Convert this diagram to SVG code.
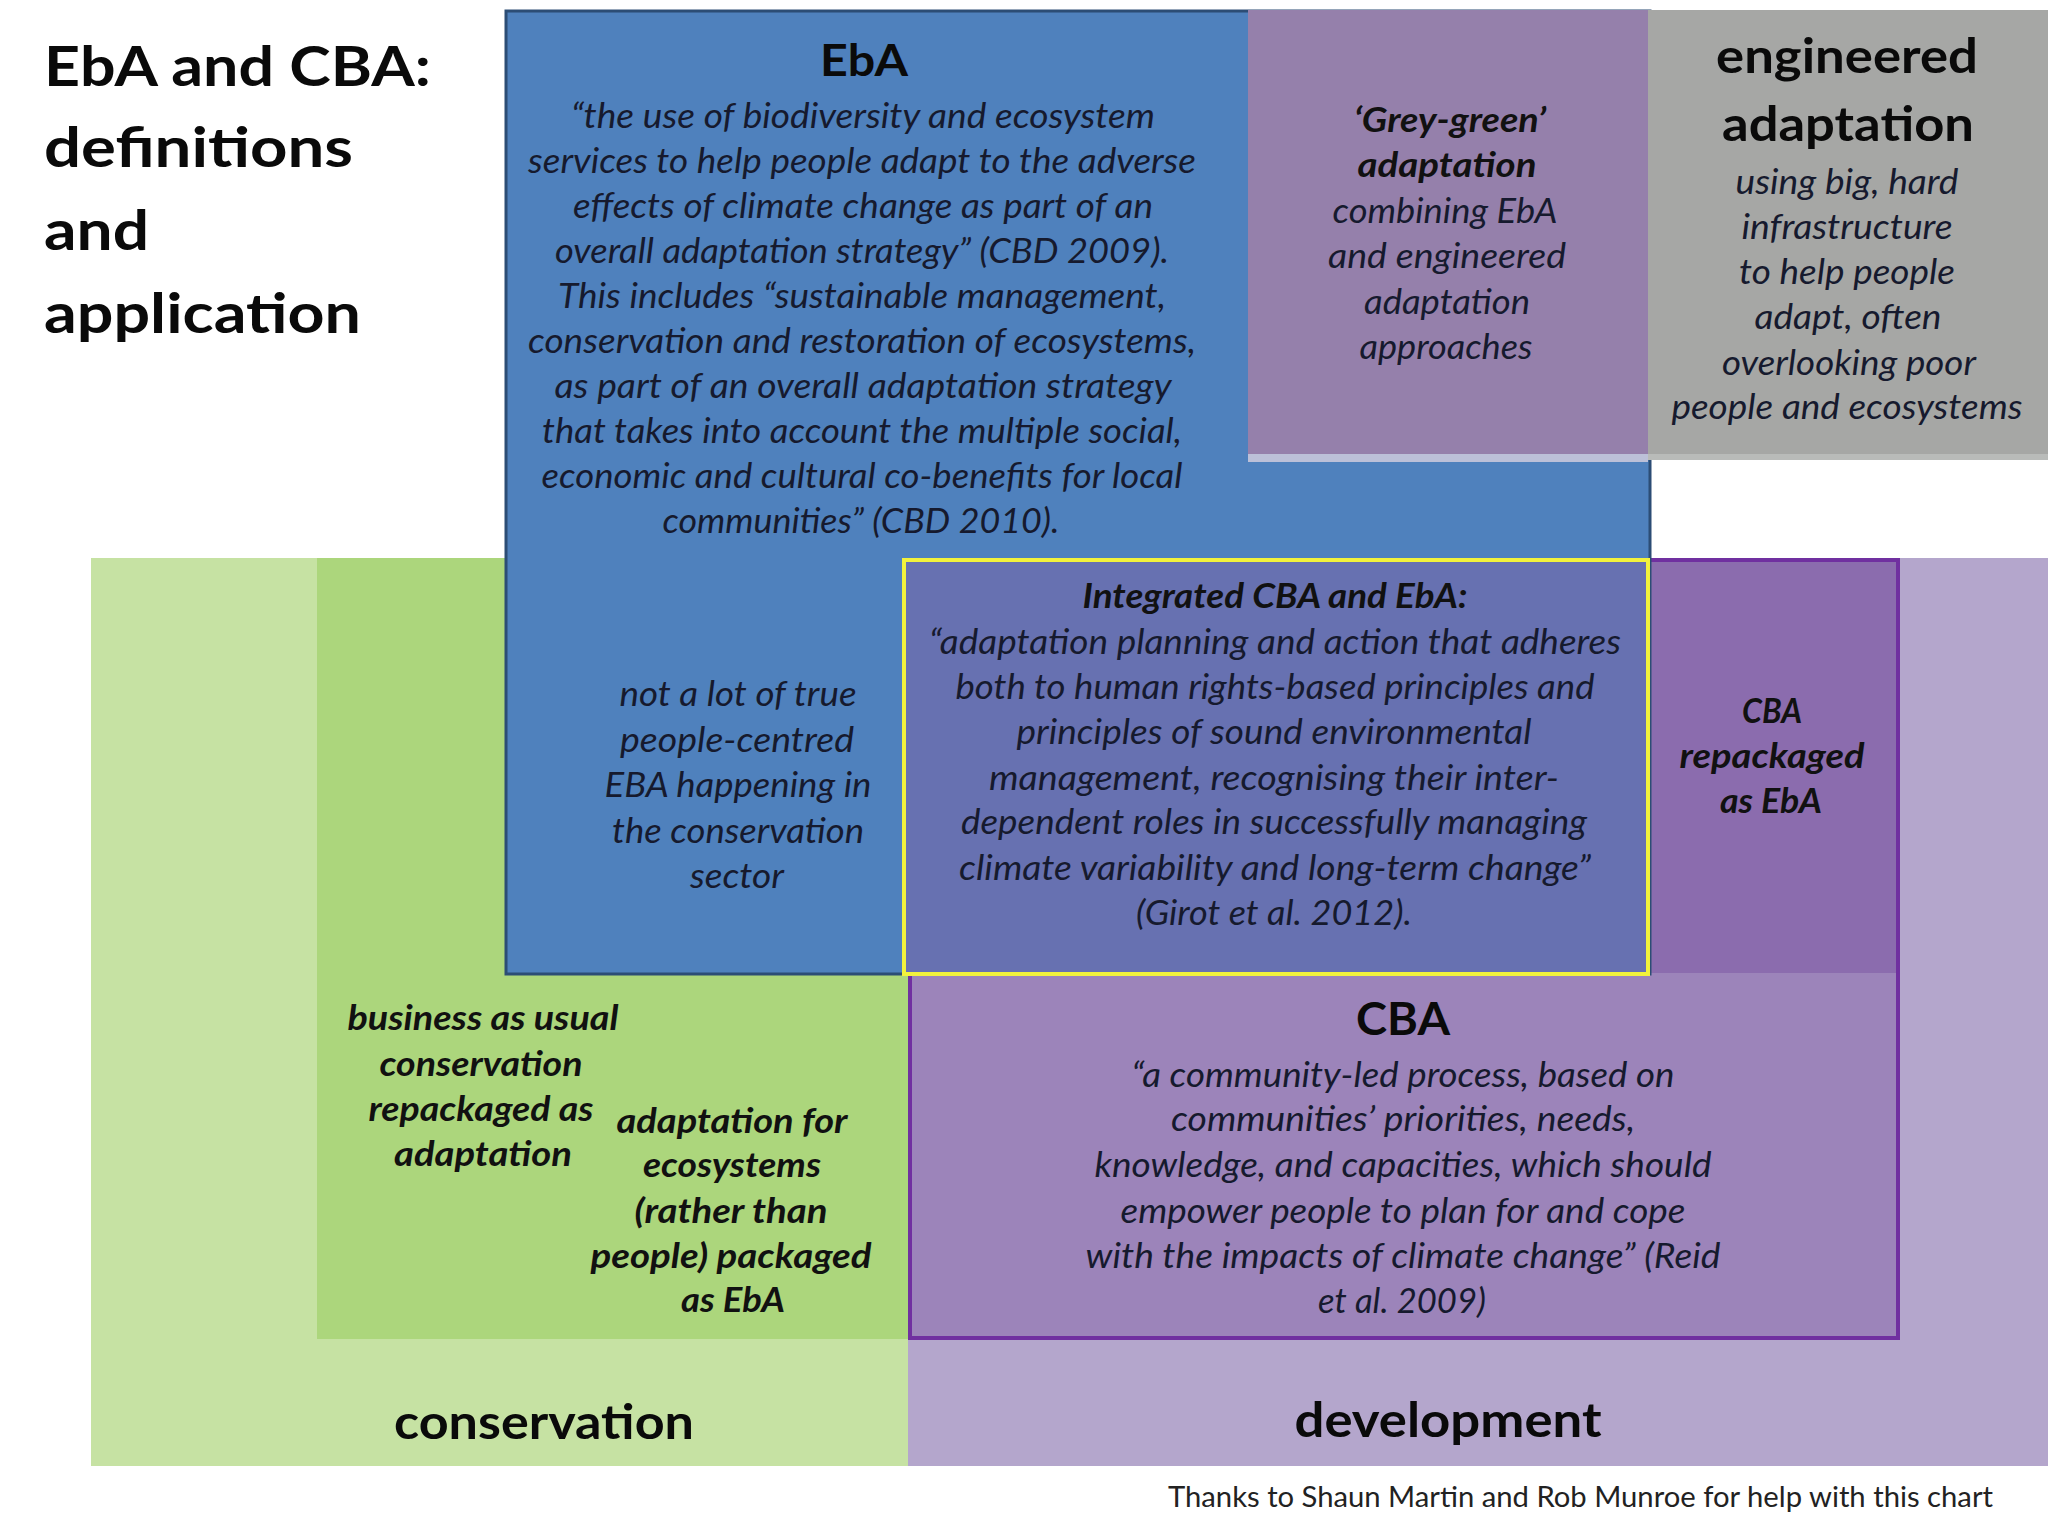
<svg xmlns="http://www.w3.org/2000/svg" width="2048" height="1536" viewBox="0 0 2048 1536">
<style>
text{font-family:Lato,"Open Sans","Liberation Sans",sans-serif;}
.t{font-weight:bold;font-size:56px;fill:#0a0a0a;}
.h{font-weight:bold;font-size:44px;fill:#0a0a0a;text-anchor:middle;}
.it{font-style:italic;font-size:34px;fill:#161a2e;text-anchor:middle;}
.bi{font-style:italic;font-weight:bold;font-size:34px;fill:#111;text-anchor:middle;}
.ft{font-size:29px;fill:#222;}
</style>
<rect width="2048" height="1536" fill="#ffffff"/>
<g id="conservation">
<rect x="91" y="558" width="817" height="908" fill="#c6e2a3"/>
<text class="h" x="544" y="1439" style="font-size:47px" textLength="300" lengthAdjust="spacingAndGlyphs">conservation</text>
</g>
<g id="conservation-inner">
<rect x="317" y="558" width="591" height="781" fill="#acd67c"/>
</g>
<g id="development">
<rect x="908" y="558" width="1140" height="908" fill="#b4a6cc"/>
<text class="h" x="1448" y="1437" style="font-size:47px" textLength="307" lengthAdjust="spacingAndGlyphs">development</text>
</g>
<g id="cba">
<rect x="908" y="558" width="992" height="782" fill="#9c84ba"/>
<rect x="1650" y="558" width="250" height="415" fill="#8b6cae"/>
<rect x="910" y="560" width="988" height="778" fill="none" stroke="#7030a0" stroke-width="4"/>
<text class="h" x="1403" y="1035" style="font-size:46px" textLength="94" lengthAdjust="spacingAndGlyphs">CBA</text>
<text class="it" x="1403" y="1087" textLength="543" lengthAdjust="spacingAndGlyphs">“a community-led process, based on</text>
<text class="it" x="1403" y="1131" textLength="464" lengthAdjust="spacingAndGlyphs">communities’ priorities, needs,</text>
<text class="it" x="1403" y="1177" textLength="617" lengthAdjust="spacingAndGlyphs">knowledge, and capacities, which should</text>
<text class="it" x="1403" y="1223" textLength="565" lengthAdjust="spacingAndGlyphs">empower people to plan for and cope</text>
<text class="it" x="1403" y="1268" textLength="635" lengthAdjust="spacingAndGlyphs">with the impacts of climate change” (Reid</text>
<text class="it" x="1402" y="1313" textLength="168" lengthAdjust="spacingAndGlyphs">et al. 2009)</text>
</g>
<g id="cba-repackaged">
<text class="bi" x="1772" y="723" textLength="60" lengthAdjust="spacingAndGlyphs">CBA</text>
<text class="bi" x="1772" y="768" textLength="185" lengthAdjust="spacingAndGlyphs">repackaged</text>
<text class="bi" x="1771" y="813" textLength="102" lengthAdjust="spacingAndGlyphs">as EbA</text>
</g>
<g id="eba">
<rect x="506" y="11" width="1144" height="963" fill="#4f81bd" stroke="#2c4d75" stroke-width="3"/>
<text class="h" x="864" y="76" textLength="88" lengthAdjust="spacingAndGlyphs">EbA</text>
<text class="it" x="863" y="128" textLength="584" lengthAdjust="spacingAndGlyphs">“the use of biodiversity and ecosystem</text>
<text class="it" x="862" y="173" textLength="668" lengthAdjust="spacingAndGlyphs">services to help people adapt to the adverse</text>
<text class="it" x="863" y="218" textLength="580" lengthAdjust="spacingAndGlyphs">effects of climate change  as part of an</text>
<text class="it" x="862" y="263" textLength="614" lengthAdjust="spacingAndGlyphs">overall adaptation strategy” (CBD 2009).</text>
<text class="it" x="862" y="308" textLength="608" lengthAdjust="spacingAndGlyphs">This includes “sustainable management,</text>
<text class="it" x="862" y="353" textLength="668" lengthAdjust="spacingAndGlyphs">conservation and restoration of ecosystems,</text>
<text class="it" x="863" y="398" textLength="617" lengthAdjust="spacingAndGlyphs">as part of an overall adaptation strategy</text>
<text class="it" x="862" y="443" textLength="640" lengthAdjust="spacingAndGlyphs">that takes into account the multiple social,</text>
<text class="it" x="862" y="488" textLength="641" lengthAdjust="spacingAndGlyphs">economic and cultural co-benefits for local</text>
<text class="it" x="861" y="533" textLength="397" lengthAdjust="spacingAndGlyphs">communities” (CBD 2010).</text>
</g>
<g id="not-people-centred">
<text class="it" x="738" y="706" textLength="237" lengthAdjust="spacingAndGlyphs">not a lot of true</text>
<text class="it" x="737" y="752" textLength="234" lengthAdjust="spacingAndGlyphs">people-centred</text>
<text class="it" x="738" y="797" textLength="267" lengthAdjust="spacingAndGlyphs">EBA happening in</text>
<text class="it" x="738" y="843" textLength="252" lengthAdjust="spacingAndGlyphs">the conservation</text>
<text class="it" x="737" y="888" textLength="94" lengthAdjust="spacingAndGlyphs">sector</text>
</g>
<g id="grey-green">
<rect x="1248" y="10" width="400" height="452" fill="#9580ab"/>
<rect x="1248" y="454" width="400" height="8" fill="#bcc0d8"/>
<text class="bi" x="1450" y="132" textLength="192" lengthAdjust="spacingAndGlyphs">‘Grey-green’</text>
<text class="bi" x="1447" y="177" textLength="179" lengthAdjust="spacingAndGlyphs">adaptation</text>
<text class="it" x="1445" y="223" textLength="225" lengthAdjust="spacingAndGlyphs">combining EbA</text>
<text class="it" x="1447" y="268" textLength="238" lengthAdjust="spacingAndGlyphs">and engineered</text>
<text class="it" x="1447" y="314" textLength="166" lengthAdjust="spacingAndGlyphs">adaptation</text>
<text class="it" x="1446" y="359" textLength="173" lengthAdjust="spacingAndGlyphs">approaches</text>
</g>
<g id="engineered">
<rect x="1648" y="10" width="400" height="450" fill="#a6a7a5"/>
<rect x="1648" y="454" width="400" height="6" fill="#b9bbb9"/>
<text class="h" x="1847" y="73" style="font-size:48px" textLength="262" lengthAdjust="spacingAndGlyphs">engineered</text>
<text class="h" x="1848" y="141" style="font-size:48px" textLength="252" lengthAdjust="spacingAndGlyphs">adaptation</text>
<text class="it" x="1847" y="194" textLength="223" lengthAdjust="spacingAndGlyphs">using big, hard</text>
<text class="it" x="1847" y="239" textLength="211" lengthAdjust="spacingAndGlyphs">infrastructure</text>
<text class="it" x="1847" y="284" textLength="216" lengthAdjust="spacingAndGlyphs">to help people</text>
<text class="it" x="1848" y="329" textLength="187" lengthAdjust="spacingAndGlyphs">adapt, often</text>
<text class="it" x="1849" y="375" textLength="254" lengthAdjust="spacingAndGlyphs">overlooking poor</text>
<text class="it" x="1847" y="419" textLength="351" lengthAdjust="spacingAndGlyphs">people and ecosystems</text>
</g>
<g id="integrated">
<rect x="904" y="560" width="744" height="414" fill="#6771b1" stroke="#f2f23c" stroke-width="4"/>
<text class="bi" x="1275" y="608" textLength="385" lengthAdjust="spacingAndGlyphs">Integrated CBA and EbA:</text>
<text class="it" x="1275" y="654" textLength="692" lengthAdjust="spacingAndGlyphs">“adaptation planning and action that adheres</text>
<text class="it" x="1275" y="699" textLength="639" lengthAdjust="spacingAndGlyphs">both to human rights-based principles and</text>
<text class="it" x="1274" y="744" textLength="515" lengthAdjust="spacingAndGlyphs">principles of sound environmental</text>
<text class="it" x="1274" y="790" textLength="570" lengthAdjust="spacingAndGlyphs">management, recognising their inter-</text>
<text class="it" x="1274" y="834" textLength="626" lengthAdjust="spacingAndGlyphs">dependent roles in successfully managing</text>
<text class="it" x="1275" y="880" textLength="632" lengthAdjust="spacingAndGlyphs">climate variability and long-term change”</text>
<text class="it" x="1274" y="925" textLength="276" lengthAdjust="spacingAndGlyphs">(Girot et al. 2012).</text>
</g>
<g id="business-as-usual">
<text class="bi" x="483" y="1030" textLength="271" lengthAdjust="spacingAndGlyphs">business as usual</text>
<text class="bi" x="481" y="1076" textLength="203" lengthAdjust="spacingAndGlyphs">conservation</text>
<text class="bi" x="481" y="1121" textLength="225" lengthAdjust="spacingAndGlyphs">repackaged as</text>
<text class="bi" x="483" y="1166" textLength="178" lengthAdjust="spacingAndGlyphs">adaptation</text>
</g>
<g id="adaptation-for-ecosystems">
<text class="bi" x="732" y="1133" textLength="231" lengthAdjust="spacingAndGlyphs">adaptation for</text>
<text class="bi" x="732" y="1177" textLength="178" lengthAdjust="spacingAndGlyphs">ecosystems</text>
<text class="bi" x="731" y="1223" textLength="193" lengthAdjust="spacingAndGlyphs">(rather than</text>
<text class="bi" x="731" y="1268" textLength="281" lengthAdjust="spacingAndGlyphs">people) packaged</text>
<text class="bi" x="733" y="1312" textLength="104" lengthAdjust="spacingAndGlyphs">as EbA</text>
</g>
<g id="title">
<text class="t" x="44" y="86" textLength="387" lengthAdjust="spacingAndGlyphs">EbA and CBA:</text>
<text class="t" x="44" y="167" textLength="309" lengthAdjust="spacingAndGlyphs">definitions</text>
<text class="t" x="44" y="250" textLength="105" lengthAdjust="spacingAndGlyphs">and</text>
<text class="t" x="44" y="333" textLength="317" lengthAdjust="spacingAndGlyphs">application</text>
</g>
<g id="credit">
<text class="ft" x="1168" y="1507" textLength="825" lengthAdjust="spacingAndGlyphs">Thanks to Shaun Martin and Rob Munroe for help with this chart</text>
</g>
<g id="connectors"></g>
</svg>
